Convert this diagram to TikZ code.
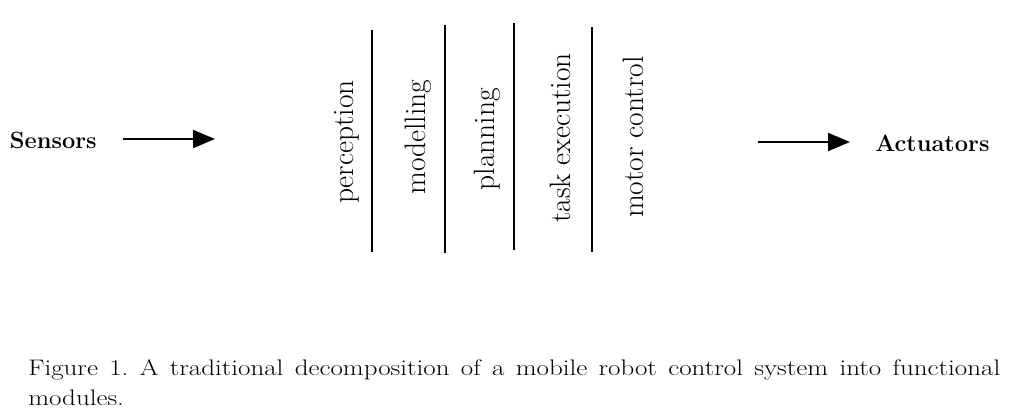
\documentclass[tikz,border=0pt]{standalone}
\usepackage{graphicx}
\usetikzlibrary{arrows.meta}
\begin{document}
\begin{tikzpicture}[
    ends/.style={inner sep=0pt, font=\fontsize{16.8}{20}\selectfont\bfseries},
    layer/.style={inner sep=0pt, rotate=90, font=\fontsize{21}{25}\selectfont},
    bar/.style={line width=2.1pt},
    flow/.style={line width=1.4pt, -{Triangle[length=0.55cm,width=0.45cm]}},
    capt/.style={inner sep=0pt, anchor=base west, font=\fontsize{16}{19}\selectfont\frenchspacing}
  ]
    \useasboundingbox (0,0) rectangle (25.325,-10.3);

    % Draw the ends
    \node[ends, anchor=east] (sens) at (2.425,-3.5) {Sensors};
    \node[ends, anchor=west] (act) at (21.875,-3.575) {Actuators};
    \coordinate (inend) at (5.375,-3.475);
    \coordinate (outstart) at (18.95,-3.55);
    \draw[flow, shorten <=0.65cm] (sens.east |- inend) -- (inend);
    \draw[flow, shorten >=0.625cm] (outstart) -- (act.west |- outstart);

    % Draw the bars
    \foreach \x/\t/\b in {9.3/0.75/6.3, 11.125/0.625/6.325, 12.85/0.575/6.25, 14.8/0.675/6.3}
        \draw[bar] (\x,-\t) -- (\x,-\b);

    % Draw the layers
    \node[layer] (perc) at (8.675,-3.55) {perception};
    \node[layer] (model) at (10.45,-3.43) {modelling};
    \node[layer] (plan) at (12.175,-3.48) {planning};
    \node[layer] (task) at (14.0,-3.45) {task execution};
    \node[layer] (motor) at (15.825,-3.43) {motor control};

    % Draw the caption
    \node[capt] (cap) at (0.7,-9.375) {\scalebox{1.2}[1]{\makebox[20.25cm][s]{Figure 1. A traditional decomposition of a mobile robot control system into functional}}};
    \node[capt] (capb) at (0.7,-10.125) {\scalebox{1.2}[1]{modules.}};
\end{tikzpicture}
\end{document}
